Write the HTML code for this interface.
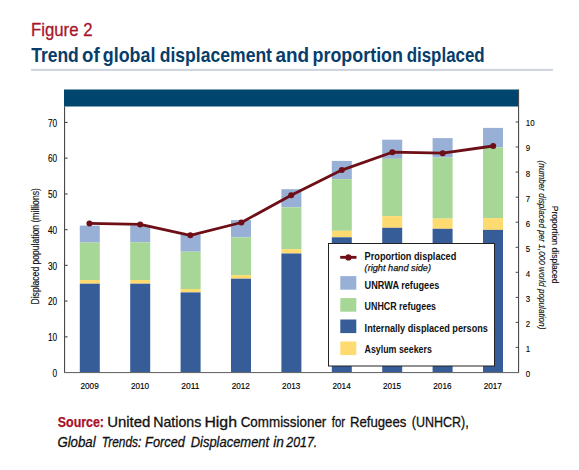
<!DOCTYPE html>
<html><head><meta charset="utf-8"><style>
html,body{margin:0;padding:0;background:#fff;width:579px;height:470px;overflow:hidden}
svg{display:block}
</style></head><body>
<svg width="579" height="470" viewBox="0 0 579 470">
<rect width="579" height="470" fill="#fff"/>
<text x="31" y="35.7" font-family="Liberation Sans, sans-serif" font-size="17.8" fill="#a8142a" stroke="#a8142a" stroke-width="0.3" textLength="61.5" lengthAdjust="spacingAndGlyphs">Figure 2</text>
<text x="31.2" y="61.7" font-family="Liberation Sans, sans-serif" font-weight="bold" font-size="21" fill="#063d6b" textLength="47.59" lengthAdjust="spacingAndGlyphs">Trend</text>
<text x="82.12" y="61.7" font-family="Liberation Sans, sans-serif" font-weight="bold" font-size="21" fill="#063d6b" textLength="17.53" lengthAdjust="spacingAndGlyphs">of</text>
<text x="102.85" y="61.7" font-family="Liberation Sans, sans-serif" font-weight="bold" font-size="21" fill="#063d6b" textLength="52.57" lengthAdjust="spacingAndGlyphs">global</text>
<text x="159.76" y="61.7" font-family="Liberation Sans, sans-serif" font-weight="bold" font-size="21" fill="#063d6b" textLength="112.22" lengthAdjust="spacingAndGlyphs">displacement</text>
<text x="275.4" y="61.7" font-family="Liberation Sans, sans-serif" font-weight="bold" font-size="21" fill="#063d6b" textLength="33.61" lengthAdjust="spacingAndGlyphs">and</text>
<text x="312.55" y="61.7" font-family="Liberation Sans, sans-serif" font-weight="bold" font-size="21" fill="#063d6b" textLength="90.42" lengthAdjust="spacingAndGlyphs">proportion</text>
<text x="406.69" y="61.7" font-family="Liberation Sans, sans-serif" font-weight="bold" font-size="21" fill="#063d6b" textLength="78.01" lengthAdjust="spacingAndGlyphs">displaced</text>
<rect x="31" y="68.9" width="522" height="2" fill="#cdd2dd"/>
<rect x="64" y="89.5" width="454.7" height="17" fill="#00456e"/>
<rect x="79.8" y="225.6" width="20" height="17.0" fill="#98b0d5"/>
<rect x="79.8" y="242.6" width="20" height="37.4" fill="#a6d796"/>
<rect x="79.8" y="280.0" width="20" height="3.7" fill="#fedb70"/>
<rect x="79.8" y="283.7" width="20" height="88.8" fill="#375d98"/>
<rect x="130.2" y="225.6" width="20" height="16.7" fill="#98b0d5"/>
<rect x="130.2" y="242.3" width="20" height="37.7" fill="#a6d796"/>
<rect x="130.2" y="280.0" width="20" height="3.7" fill="#fedb70"/>
<rect x="130.2" y="283.7" width="20" height="88.8" fill="#375d98"/>
<rect x="180.6" y="234.6" width="20" height="17.1" fill="#98b0d5"/>
<rect x="180.6" y="251.7" width="20" height="37.3" fill="#a6d796"/>
<rect x="180.6" y="289.0" width="20" height="3.4" fill="#fedb70"/>
<rect x="180.6" y="292.4" width="20" height="80.1" fill="#375d98"/>
<rect x="231.0" y="220.1" width="20" height="17.2" fill="#98b0d5"/>
<rect x="231.0" y="237.3" width="20" height="37.8" fill="#a6d796"/>
<rect x="231.0" y="275.1" width="20" height="3.6" fill="#fedb70"/>
<rect x="231.0" y="278.7" width="20" height="93.8" fill="#375d98"/>
<rect x="281.4" y="189.2" width="20" height="18.1" fill="#98b0d5"/>
<rect x="281.4" y="207.3" width="20" height="41.8" fill="#a6d796"/>
<rect x="281.4" y="249.1" width="20" height="4.4" fill="#fedb70"/>
<rect x="281.4" y="253.5" width="20" height="119.0" fill="#375d98"/>
<rect x="331.8" y="160.9" width="20" height="18.3" fill="#98b0d5"/>
<rect x="331.8" y="179.2" width="20" height="51.6" fill="#a6d796"/>
<rect x="331.8" y="230.8" width="20" height="6.5" fill="#fedb70"/>
<rect x="331.8" y="237.3" width="20" height="135.2" fill="#375d98"/>
<rect x="382.2" y="139.7" width="20" height="19.1" fill="#98b0d5"/>
<rect x="382.2" y="158.8" width="20" height="57.3" fill="#a6d796"/>
<rect x="382.2" y="216.1" width="20" height="11.7" fill="#fedb70"/>
<rect x="382.2" y="227.8" width="20" height="144.7" fill="#375d98"/>
<rect x="432.6" y="138.1" width="20" height="19.4" fill="#98b0d5"/>
<rect x="432.6" y="157.5" width="20" height="61.1" fill="#a6d796"/>
<rect x="432.6" y="218.6" width="20" height="10.2" fill="#fedb70"/>
<rect x="432.6" y="228.8" width="20" height="143.7" fill="#375d98"/>
<rect x="483.0" y="127.9" width="20" height="19.5" fill="#98b0d5"/>
<rect x="483.0" y="147.4" width="20" height="70.7" fill="#a6d796"/>
<rect x="483.0" y="218.1" width="20" height="11.8" fill="#fedb70"/>
<rect x="483.0" y="229.9" width="20" height="142.6" fill="#375d98"/>
<rect x="64" y="106.5" width="1.1" height="266.5" fill="#4a4a4a"/>
<rect x="518" y="89.5" width="1.1" height="283.5" fill="#4a4a4a"/>
<rect x="64" y="372" width="455" height="1.1" fill="#6a6a6a"/>
<text x="52.6" y="376.8" font-family="Liberation Sans, sans-serif" font-size="10" fill="#000" stroke="#000" stroke-width="0.12" textLength="4.6" lengthAdjust="spacingAndGlyphs">0</text>
<rect x="65" y="336.3" width="2.6" height="1.1" fill="#4a4a4a"/>
<text x="48.0" y="341.1" font-family="Liberation Sans, sans-serif" font-size="10" fill="#000" stroke="#000" stroke-width="0.12" textLength="9.2" lengthAdjust="spacingAndGlyphs">10</text>
<rect x="65" y="300.5" width="2.6" height="1.1" fill="#4a4a4a"/>
<text x="48.0" y="305.3" font-family="Liberation Sans, sans-serif" font-size="10" fill="#000" stroke="#000" stroke-width="0.12" textLength="9.2" lengthAdjust="spacingAndGlyphs">20</text>
<rect x="65" y="264.8" width="2.6" height="1.1" fill="#4a4a4a"/>
<text x="48.0" y="269.6" font-family="Liberation Sans, sans-serif" font-size="10" fill="#000" stroke="#000" stroke-width="0.12" textLength="9.2" lengthAdjust="spacingAndGlyphs">30</text>
<rect x="65" y="229.1" width="2.6" height="1.1" fill="#4a4a4a"/>
<text x="48.0" y="233.9" font-family="Liberation Sans, sans-serif" font-size="10" fill="#000" stroke="#000" stroke-width="0.12" textLength="9.2" lengthAdjust="spacingAndGlyphs">40</text>
<rect x="65" y="193.4" width="2.6" height="1.1" fill="#4a4a4a"/>
<text x="48.0" y="198.2" font-family="Liberation Sans, sans-serif" font-size="10" fill="#000" stroke="#000" stroke-width="0.12" textLength="9.2" lengthAdjust="spacingAndGlyphs">50</text>
<rect x="65" y="157.6" width="2.6" height="1.1" fill="#4a4a4a"/>
<text x="48.0" y="162.4" font-family="Liberation Sans, sans-serif" font-size="10" fill="#000" stroke="#000" stroke-width="0.12" textLength="9.2" lengthAdjust="spacingAndGlyphs">60</text>
<rect x="65" y="121.9" width="2.6" height="1.1" fill="#4a4a4a"/>
<text x="48.0" y="126.7" font-family="Liberation Sans, sans-serif" font-size="10" fill="#000" stroke="#000" stroke-width="0.12" textLength="9.2" lengthAdjust="spacingAndGlyphs">70</text>
<text x="525.8" y="376.9" font-family="Liberation Sans, sans-serif" font-size="9.7" fill="#000" stroke="#000" stroke-width="0.12" textLength="4.4" lengthAdjust="spacingAndGlyphs">0</text>
<rect x="515.6" y="346.9" width="2.6" height="1" fill="#4a4a4a"/>
<text x="525.8" y="351.8" font-family="Liberation Sans, sans-serif" font-size="9.7" fill="#000" stroke="#000" stroke-width="0.12" textLength="4.4" lengthAdjust="spacingAndGlyphs">1</text>
<rect x="515.6" y="321.9" width="2.6" height="1" fill="#4a4a4a"/>
<text x="525.8" y="326.8" font-family="Liberation Sans, sans-serif" font-size="9.7" fill="#000" stroke="#000" stroke-width="0.12" textLength="4.4" lengthAdjust="spacingAndGlyphs">2</text>
<rect x="515.6" y="296.9" width="2.6" height="1" fill="#4a4a4a"/>
<text x="525.8" y="301.8" font-family="Liberation Sans, sans-serif" font-size="9.7" fill="#000" stroke="#000" stroke-width="0.12" textLength="4.4" lengthAdjust="spacingAndGlyphs">3</text>
<rect x="515.6" y="271.8" width="2.6" height="1" fill="#4a4a4a"/>
<text x="525.8" y="276.7" font-family="Liberation Sans, sans-serif" font-size="9.7" fill="#000" stroke="#000" stroke-width="0.12" textLength="4.4" lengthAdjust="spacingAndGlyphs">4</text>
<rect x="515.6" y="246.8" width="2.6" height="1" fill="#4a4a4a"/>
<text x="525.8" y="251.7" font-family="Liberation Sans, sans-serif" font-size="9.7" fill="#000" stroke="#000" stroke-width="0.12" textLength="4.4" lengthAdjust="spacingAndGlyphs">5</text>
<rect x="515.6" y="221.7" width="2.6" height="1" fill="#4a4a4a"/>
<text x="525.8" y="226.6" font-family="Liberation Sans, sans-serif" font-size="9.7" fill="#000" stroke="#000" stroke-width="0.12" textLength="4.4" lengthAdjust="spacingAndGlyphs">6</text>
<rect x="515.6" y="196.7" width="2.6" height="1" fill="#4a4a4a"/>
<text x="525.8" y="201.6" font-family="Liberation Sans, sans-serif" font-size="9.7" fill="#000" stroke="#000" stroke-width="0.12" textLength="4.4" lengthAdjust="spacingAndGlyphs">7</text>
<rect x="515.6" y="171.6" width="2.6" height="1" fill="#4a4a4a"/>
<text x="525.8" y="176.5" font-family="Liberation Sans, sans-serif" font-size="9.7" fill="#000" stroke="#000" stroke-width="0.12" textLength="4.4" lengthAdjust="spacingAndGlyphs">8</text>
<rect x="515.6" y="146.5" width="2.6" height="1" fill="#4a4a4a"/>
<text x="525.8" y="151.4" font-family="Liberation Sans, sans-serif" font-size="9.7" fill="#000" stroke="#000" stroke-width="0.12" textLength="4.4" lengthAdjust="spacingAndGlyphs">9</text>
<rect x="515.6" y="121.5" width="2.6" height="1" fill="#4a4a4a"/>
<text x="525.8" y="126.4" font-family="Liberation Sans, sans-serif" font-size="9.7" fill="#000" stroke="#000" stroke-width="0.12" textLength="8.8" lengthAdjust="spacingAndGlyphs">10</text>
<text x="80.5" y="389" font-family="Liberation Sans, sans-serif" font-size="9.3" fill="#000" stroke="#000" stroke-width="0.15" textLength="18.2" lengthAdjust="spacingAndGlyphs">2009</text>
<text x="130.9" y="389" font-family="Liberation Sans, sans-serif" font-size="9.3" fill="#000" stroke="#000" stroke-width="0.15" textLength="18.2" lengthAdjust="spacingAndGlyphs">2010</text>
<text x="181.3" y="389" font-family="Liberation Sans, sans-serif" font-size="9.3" fill="#000" stroke="#000" stroke-width="0.15" textLength="18.2" lengthAdjust="spacingAndGlyphs">2011</text>
<text x="231.7" y="389" font-family="Liberation Sans, sans-serif" font-size="9.3" fill="#000" stroke="#000" stroke-width="0.15" textLength="18.2" lengthAdjust="spacingAndGlyphs">2012</text>
<text x="282.1" y="389" font-family="Liberation Sans, sans-serif" font-size="9.3" fill="#000" stroke="#000" stroke-width="0.15" textLength="18.2" lengthAdjust="spacingAndGlyphs">2013</text>
<text x="332.5" y="389" font-family="Liberation Sans, sans-serif" font-size="9.3" fill="#000" stroke="#000" stroke-width="0.15" textLength="18.2" lengthAdjust="spacingAndGlyphs">2014</text>
<text x="382.9" y="389" font-family="Liberation Sans, sans-serif" font-size="9.3" fill="#000" stroke="#000" stroke-width="0.15" textLength="18.2" lengthAdjust="spacingAndGlyphs">2015</text>
<text x="433.3" y="389" font-family="Liberation Sans, sans-serif" font-size="9.3" fill="#000" stroke="#000" stroke-width="0.15" textLength="18.2" lengthAdjust="spacingAndGlyphs">2016</text>
<text x="483.7" y="389" font-family="Liberation Sans, sans-serif" font-size="9.3" fill="#000" stroke="#000" stroke-width="0.15" textLength="18.2" lengthAdjust="spacingAndGlyphs">2017</text>
<text transform="translate(39.4,304.5) rotate(-90)" x="0" y="0" font-family="Liberation Sans, sans-serif" font-size="10" fill="#111" stroke="#111" stroke-width="0.12" textLength="116.3" lengthAdjust="spacingAndGlyphs">Displaced population (millions)</text>
<text transform="translate(551.5,205.7) rotate(90)" x="0" y="0" font-family="Liberation Sans, sans-serif" font-size="9.2" fill="#111" stroke="#111" stroke-width="0.12" textLength="77.9" lengthAdjust="spacingAndGlyphs">Proportion displaced</text>
<text transform="translate(539.2,160.6) rotate(90)" x="0" y="0" font-family="Liberation Sans, sans-serif" font-style="italic" font-size="9.2" fill="#111" stroke="#111" stroke-width="0.15" textLength="168.8" lengthAdjust="spacingAndGlyphs">(number displaced per 1,000 world population)</text>
<polyline points="89.45,223.45 140.2,224.4 190.3,235.3 241.4,222.5 291.2,195.2 341.8,170.1 392.3,152.2 442.7,153.2 493.2,146" fill="none" stroke="#6e0f17" stroke-width="2.8" stroke-linejoin="round"/>
<circle cx="89.45" cy="223.45" r="3.0" fill="#6e0f17"/>
<circle cx="140.2" cy="224.4" r="3.0" fill="#6e0f17"/>
<circle cx="190.3" cy="235.3" r="3.0" fill="#6e0f17"/>
<circle cx="241.4" cy="222.5" r="3.0" fill="#6e0f17"/>
<circle cx="291.2" cy="195.2" r="3.0" fill="#6e0f17"/>
<circle cx="341.8" cy="170.1" r="3.0" fill="#6e0f17"/>
<circle cx="392.3" cy="152.2" r="3.0" fill="#6e0f17"/>
<circle cx="442.7" cy="153.2" r="3.0" fill="#6e0f17"/>
<circle cx="493.2" cy="146" r="3.0" fill="#6e0f17"/>
<rect x="328.5" y="243.5" width="166" height="122.5" fill="#fff" stroke="#222" stroke-width="1"/>
<rect x="340.2" y="255.9" width="16.3" height="2.85" fill="#6e0f17"/>
<ellipse cx="348.4" cy="257.4" rx="3" ry="3.2" fill="#6e0f17"/>
<text x="364.6" y="260" font-family="Liberation Sans, sans-serif" font-weight="bold" font-size="10.8" fill="#111" textLength="91.7" lengthAdjust="spacingAndGlyphs">Proportion displaced</text>
<text x="364.6" y="270.6" font-family="Liberation Sans, sans-serif" font-style="italic" font-size="9.8" fill="#111" stroke="#111" stroke-width="0.25" textLength="66.4" lengthAdjust="spacingAndGlyphs">(right hand side)</text>
<rect x="340.3" y="276.1" width="16" height="13.6" fill="#98b0d5"/>
<text x="364.6" y="288.5" font-family="Liberation Sans, sans-serif" font-weight="bold" font-size="10.8" fill="#111" textLength="74.8" lengthAdjust="spacingAndGlyphs">UNRWA refugees</text>
<rect x="340.3" y="298.1" width="16" height="13.6" fill="#a6d796"/>
<text x="364.6" y="309.9" font-family="Liberation Sans, sans-serif" font-weight="bold" font-size="10.8" fill="#111" textLength="71.4" lengthAdjust="spacingAndGlyphs">UNHCR refugees</text>
<rect x="340.3" y="319.5" width="16" height="13.6" fill="#375d98"/>
<text x="364.6" y="332" font-family="Liberation Sans, sans-serif" font-weight="bold" font-size="10.8" fill="#111" textLength="123.3" lengthAdjust="spacingAndGlyphs">Internally displaced persons</text>
<rect x="340.3" y="341.5" width="16" height="13.6" fill="#fedb70"/>
<text x="364.6" y="352.9" font-family="Liberation Sans, sans-serif" font-weight="bold" font-size="10.8" fill="#111" textLength="67.2" lengthAdjust="spacingAndGlyphs">Asylum seekers</text>
<text x="57.8" y="427.4" font-family="Liberation Sans, sans-serif" font-weight="bold" font-size="14.6" fill="#a80f28" stroke="#a80f28" stroke-width="0.25" textLength="46.2" lengthAdjust="spacingAndGlyphs">Source:</text>
<text x="107.18" y="427.4" font-family="Liberation Sans, sans-serif" font-size="14.6" fill="#111" stroke="#111" stroke-width="0.3" textLength="43.14" lengthAdjust="spacingAndGlyphs">United</text>
<text x="153.23" y="427.4" font-family="Liberation Sans, sans-serif" font-size="14.6" fill="#111" stroke="#111" stroke-width="0.3" textLength="48.04" lengthAdjust="spacingAndGlyphs">Nations</text>
<text x="204.41" y="427.4" font-family="Liberation Sans, sans-serif" font-size="14.6" fill="#111" stroke="#111" stroke-width="0.3" textLength="32.59" lengthAdjust="spacingAndGlyphs">High</text>
<text x="240.68" y="427.4" font-family="Liberation Sans, sans-serif" font-size="14.6" fill="#111" stroke="#111" stroke-width="0.3" textLength="85.66" lengthAdjust="spacingAndGlyphs">Commissioner</text>
<text x="331.8" y="427.4" font-family="Liberation Sans, sans-serif" font-size="14.6" fill="#111" stroke="#111" stroke-width="0.3" textLength="13.32" lengthAdjust="spacingAndGlyphs">for</text>
<text x="349.9" y="427.4" font-family="Liberation Sans, sans-serif" font-size="14.6" fill="#111" stroke="#111" stroke-width="0.3" textLength="56.44" lengthAdjust="spacingAndGlyphs">Refugees</text>
<text x="411.74" y="427.4" font-family="Liberation Sans, sans-serif" font-size="14.6" fill="#111" stroke="#111" stroke-width="0.3" textLength="57.03" lengthAdjust="spacingAndGlyphs">(UNHCR),</text>
<text x="57.39" y="447.3" font-family="Liberation Sans, sans-serif" font-style="italic" font-size="14.6" fill="#111" stroke="#111" stroke-width="0.3" textLength="38.27" lengthAdjust="spacingAndGlyphs">Global</text>
<text x="101.78" y="447.3" font-family="Liberation Sans, sans-serif" font-style="italic" font-size="14.6" fill="#111" stroke="#111" stroke-width="0.3" textLength="39.55" lengthAdjust="spacingAndGlyphs">Trends:</text>
<text x="145.1" y="447.3" font-family="Liberation Sans, sans-serif" font-style="italic" font-size="14.6" fill="#111" stroke="#111" stroke-width="0.3" textLength="39.89" lengthAdjust="spacingAndGlyphs">Forced</text>
<text x="190.7" y="447.3" font-family="Liberation Sans, sans-serif" font-style="italic" font-size="14.6" fill="#111" stroke="#111" stroke-width="0.3" textLength="78.49" lengthAdjust="spacingAndGlyphs">Displacement</text>
<text x="273.2" y="447.3" font-family="Liberation Sans, sans-serif" font-style="italic" font-size="14.6" fill="#111" stroke="#111" stroke-width="0.3" textLength="10.64" lengthAdjust="spacingAndGlyphs">in</text>
<text x="286.3" y="447.3" font-family="Liberation Sans, sans-serif" font-style="italic" font-size="14.6" fill="#111" stroke="#111" stroke-width="0.3" textLength="31.0" lengthAdjust="spacingAndGlyphs">2017.</text>
</svg>
</body></html>
